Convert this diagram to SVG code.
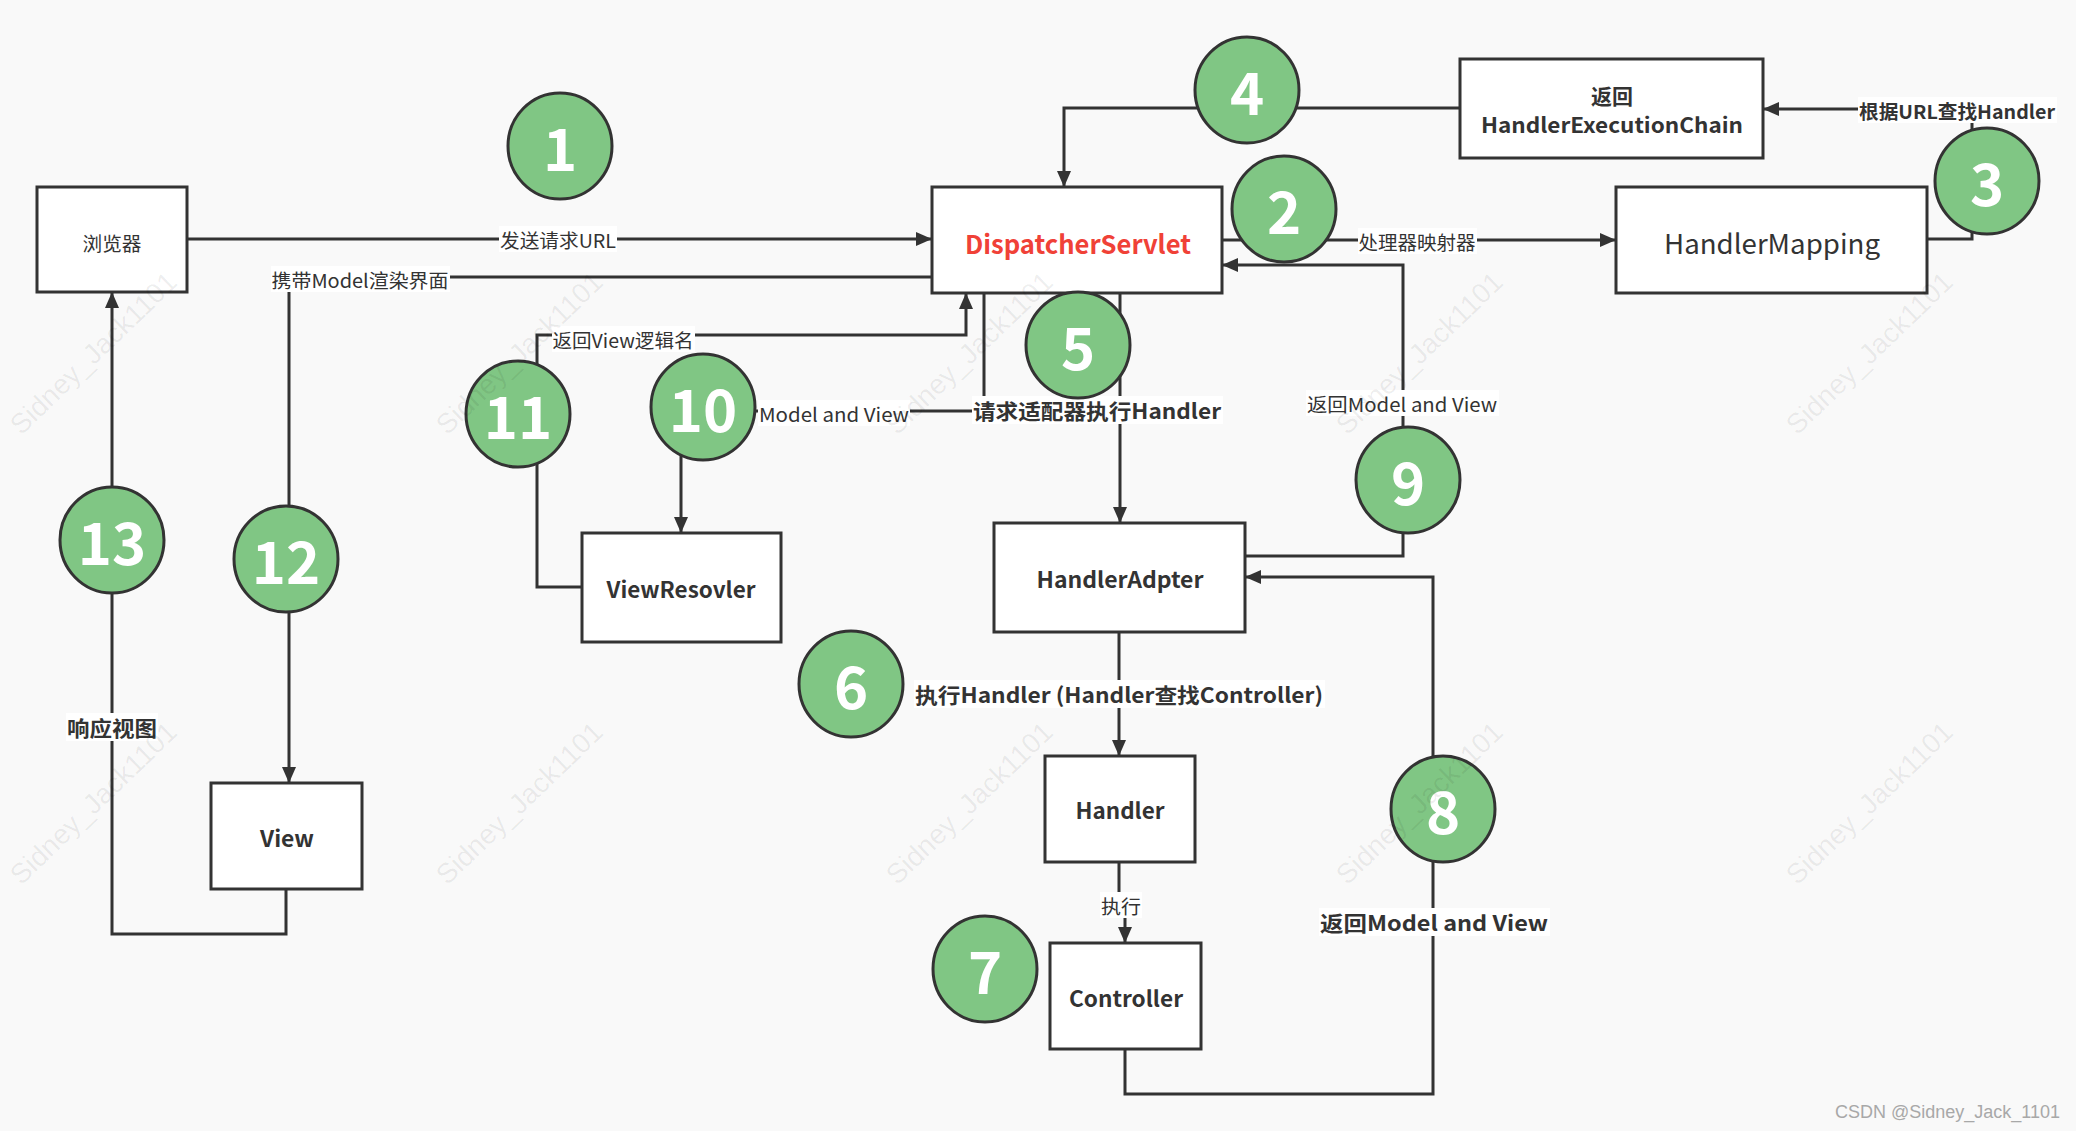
<svg xmlns="http://www.w3.org/2000/svg" width="2076" height="1131" viewBox="0 0 2076 1131">
<style>
text{font-family:"Noto Sans CJK SC","Noto Sans",sans-serif;fill:#333;dominant-baseline:central;text-anchor:middle}
.box{fill:#fff;stroke:#333;stroke-width:3}
.num{fill:#80c684;stroke:#333;stroke-width:3}
.num-t{fill:#fff;font-weight:bold;font-size:58px}
.ln{fill:none;stroke:#333;stroke-width:3}
.lb{fill:#fff}
.t19{font-size:19px}
.b21{font-size:21px;font-weight:bold}
.b22{font-size:22px;font-weight:bold}
.wm{font-family:"Liberation Sans",Arial,sans-serif;font-size:28px;fill:#000;fill-opacity:0.07;dominant-baseline:auto}
</style>
<defs>
<marker id="ah" viewBox="0 0 16 14" refX="16" refY="7" markerWidth="16" markerHeight="14" markerUnits="userSpaceOnUse" orient="auto">
<path d="M0,0 L16,7 L0,14 z" fill="#333"/>
</marker>
</defs>
<rect width="2076" height="1131" fill="#f9f9f9"/>

<g id="connectors">
<path class="ln" d="M188 239 H932" marker-end="url(#ah)"/>
<path class="ln" d="M932 277 H289 V783" marker-end="url(#ah)"/>
<path class="ln" d="M1222 240 H1616" marker-end="url(#ah)"/>
<path class="ln" d="M1927 239 H1972 V109 H1763" marker-end="url(#ah)"/>
<path class="ln" d="M1460 108 H1064 V187" marker-end="url(#ah)"/>
<path class="ln" d="M1120 293 V523" marker-end="url(#ah)"/>
<path class="ln" d="M1119 632 V756" marker-end="url(#ah)"/>
<path class="ln" d="M1119 862 V903 H1125 V943" marker-end="url(#ah)"/>
<path class="ln" d="M1125 1049 V1094 H1433 V577 H1245" marker-end="url(#ah)"/>
<path class="ln" d="M1245 556 H1403 V265 H1222" marker-end="url(#ah)"/>
<path class="ln" d="M984 293 V411 H681 V533" marker-end="url(#ah)"/>
<path class="ln" d="M582 587 H537 V335 H966 V293" marker-end="url(#ah)"/>
<path class="ln" d="M286 889 V934 H112 V292" marker-end="url(#ah)"/>

<rect class="lb" x="499" y="226" width="118" height="26"/>
<text class="t19" x="558" y="239" textLength="116" lengthAdjust="spacingAndGlyphs">发送请求URL</text>
<rect class="lb" x="271" y="266" width="179" height="26"/>
<text class="t19" x="360" y="279" textLength="177" lengthAdjust="spacingAndGlyphs">携带Model渲染界面</text>
<rect class="lb" x="1358" y="228" width="119" height="26"/>
<text class="t19" x="1417" y="241" textLength="117" lengthAdjust="spacingAndGlyphs">处理器映射器</text>
<rect class="lb" x="1858" y="97" width="199" height="26"/>
<text class="b21" x="1957" y="110" style="font-size:19px" textLength="196" lengthAdjust="spacingAndGlyphs">根据URL查找Handler</text>
<rect class="lb" x="972" y="396" width="251" height="28"/>
<text class="b21" x="1097" y="410" textLength="248" lengthAdjust="spacingAndGlyphs">请求适配器执行Handler</text>
<rect class="lb" x="914" y="680" width="411" height="28"/>
<text class="b21" x="1119" y="694" textLength="408" lengthAdjust="spacingAndGlyphs">执行Handler (Handler查找Controller)</text>
<rect class="lb" x="1100" y="892" width="42" height="26"/>
<text class="t19" x="1121" y="905" textLength="40" lengthAdjust="spacingAndGlyphs">执行</text>
<rect class="lb" x="1319" y="908" width="231" height="28"/>
<text class="b21" x="1434" y="922" textLength="228" lengthAdjust="spacingAndGlyphs">返回Model and View</text>
<rect class="lb" x="1306" y="390" width="193" height="26"/>
<text class="t19" x="1402" y="403" textLength="190" lengthAdjust="spacingAndGlyphs">返回Model and View</text>
<rect class="lb" x="758" y="400" width="152" height="26"/>
<text class="t19" x="834" y="413" textLength="150" lengthAdjust="spacingAndGlyphs">Model and View</text>
<rect class="lb" x="552" y="326" width="143" height="26"/>
<text class="t19" x="623" y="339" textLength="141" lengthAdjust="spacingAndGlyphs">返回View逻辑名</text>
<rect class="lb" x="66" y="713" width="92" height="28"/>
<text class="b21" x="112" y="727" textLength="90" lengthAdjust="spacingAndGlyphs">响应视图</text>
</g>

<g id="browser"><rect class="box" x="37" y="187" width="150" height="105"/><text class="t19" x="112" y="242" textLength="59" lengthAdjust="spacingAndGlyphs">浏览器</text></g>
<g id="dispatcher-servlet"><rect class="box" x="932" y="187" width="290" height="106"/><text x="1078" y="242" style="font-size:26px;font-weight:bold;fill:#f04137" textLength="226" lengthAdjust="spacingAndGlyphs">DispatcherServlet</text></g>
<g id="handler-execution-chain"><rect class="box" x="1460" y="59" width="303" height="99"/><text class="b22" x="1612" y="95" style="font-size:21px">返回</text><text class="b22" x="1612" y="124" style="font-size:21px" textLength="262" lengthAdjust="spacingAndGlyphs">HandlerExecutionChain</text></g>
<g id="handler-mapping"><rect class="box" x="1616" y="187" width="311" height="106"/><text x="1772" y="242" style="font-size:27px" textLength="216" lengthAdjust="spacingAndGlyphs">HandlerMapping</text></g>
<g id="view-resolver"><rect class="box" x="582" y="533" width="199" height="109"/><text class="b22" x="681" y="588" textLength="149" lengthAdjust="spacingAndGlyphs">ViewResovler</text></g>
<g id="handler-adapter"><rect class="box" x="994" y="523" width="251" height="109"/><text class="b22" x="1120" y="578" textLength="167" lengthAdjust="spacingAndGlyphs">HandlerAdpter</text></g>
<g id="handler"><rect class="box" x="1045" y="756" width="150" height="106"/><text class="b22" x="1120" y="809" textLength="89" lengthAdjust="spacingAndGlyphs">Handler</text></g>
<g id="controller"><rect class="box" x="1050" y="943" width="151" height="106"/><text class="b22" x="1126" y="997" textLength="114" lengthAdjust="spacingAndGlyphs">Controller</text></g>
<g id="view"><rect class="box" x="211" y="783" width="151" height="106"/><text class="b22" x="287" y="837" textLength="54" lengthAdjust="spacingAndGlyphs">View</text></g>

<g id="step-1"><ellipse class="num" cx="560" cy="146" rx="52" ry="53"/><text class="num-t" x="560" y="146">1</text></g>
<g id="step-2"><ellipse class="num" cx="1284" cy="209" rx="52" ry="53"/><text class="num-t" x="1284" y="209">2</text></g>
<g id="step-3"><ellipse class="num" cx="1987" cy="181" rx="52" ry="53"/><text class="num-t" x="1987" y="181">3</text></g>
<g id="step-4"><ellipse class="num" cx="1247" cy="90" rx="52" ry="53"/><text class="num-t" x="1247" y="90">4</text></g>
<g id="step-5"><ellipse class="num" cx="1078" cy="345" rx="52" ry="53"/><text class="num-t" x="1078" y="345">5</text></g>
<g id="step-6"><ellipse class="num" cx="851" cy="684" rx="52" ry="53"/><text class="num-t" x="851" y="684">6</text></g>
<g id="step-7"><ellipse class="num" cx="985" cy="969" rx="52" ry="53"/><text class="num-t" x="985" y="969">7</text></g>
<g id="step-8"><ellipse class="num" cx="1443" cy="809" rx="52" ry="53"/><text class="num-t" x="1443" y="809">8</text></g>
<g id="step-9"><ellipse class="num" cx="1408" cy="480" rx="52" ry="53"/><text class="num-t" x="1408" y="480">9</text></g>
<g id="step-10"><ellipse class="num" cx="703" cy="407" rx="52" ry="53"/><text class="num-t" x="703" y="407">10</text></g>
<g id="step-11"><ellipse class="num" cx="518" cy="414" rx="52" ry="53"/><text class="num-t" x="518" y="414">11</text></g>
<g id="step-12"><ellipse class="num" cx="286" cy="559" rx="52" ry="53"/><text class="num-t" x="286" y="559">12</text></g>
<g id="step-13"><ellipse class="num" cx="112" cy="540" rx="52" ry="53"/><text class="num-t" x="112" y="540">13</text></g>

<g id="watermarks">
<text class="wm" transform="translate(100,360) rotate(-44)">Sidney_Jack1101</text>
<text class="wm" transform="translate(526,360) rotate(-44)">Sidney_Jack1101</text>
<text class="wm" transform="translate(976,360) rotate(-44)">Sidney_Jack1101</text>
<text class="wm" transform="translate(1426,360) rotate(-44)">Sidney_Jack1101</text>
<text class="wm" transform="translate(1876,360) rotate(-44)">Sidney_Jack1101</text>
<text class="wm" transform="translate(100,810) rotate(-44)">Sidney_Jack1101</text>
<text class="wm" transform="translate(526,810) rotate(-44)">Sidney_Jack1101</text>
<text class="wm" transform="translate(976,810) rotate(-44)">Sidney_Jack1101</text>
<text class="wm" transform="translate(1426,810) rotate(-44)">Sidney_Jack1101</text>
<text class="wm" transform="translate(1876,810) rotate(-44)">Sidney_Jack1101</text>
</g>
<text x="2060" y="1112" style="font-family:'Liberation Sans',Arial,sans-serif;font-size:18px;fill:#a8a8a8;text-anchor:end">CSDN @Sidney_Jack_1101</text>
</svg>
